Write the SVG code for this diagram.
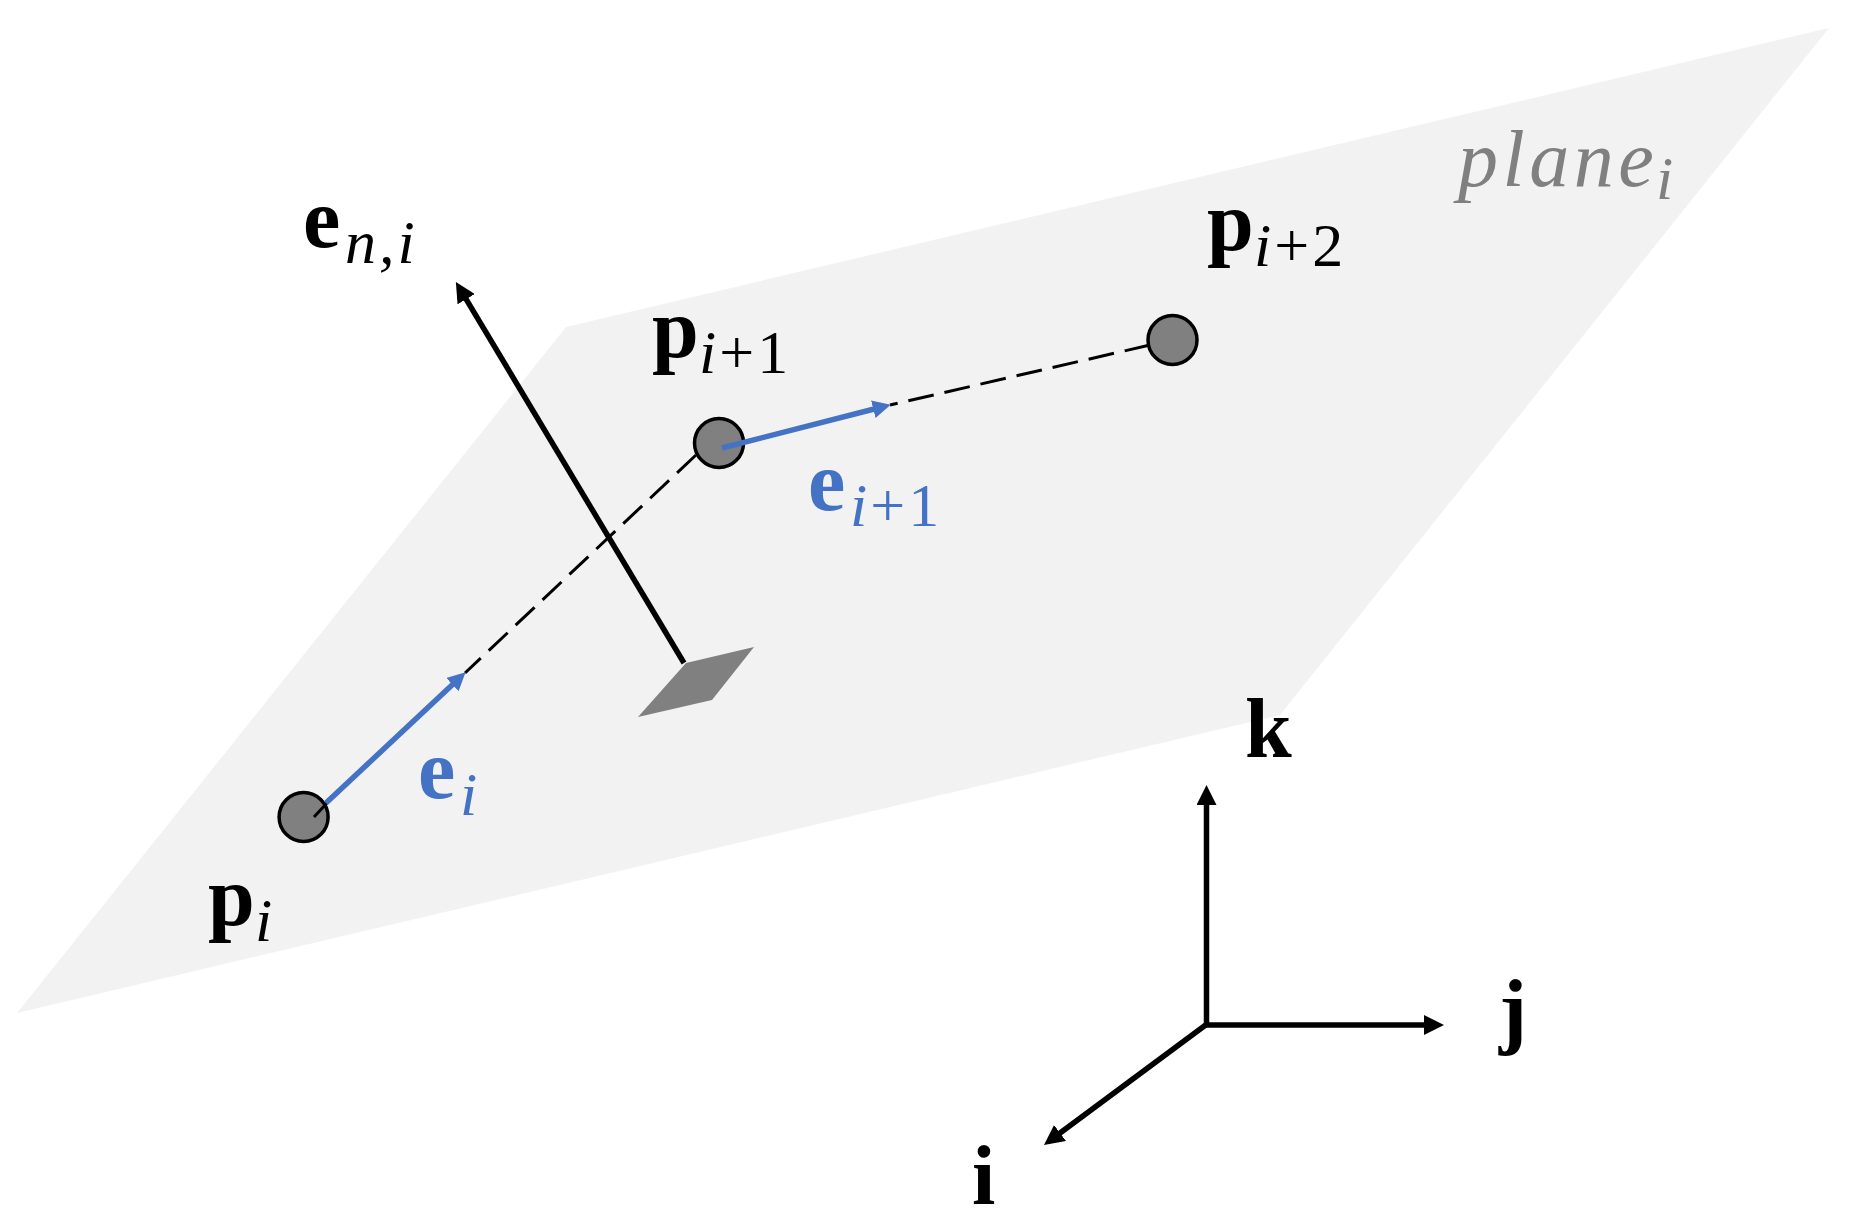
<svg xmlns="http://www.w3.org/2000/svg" width="1852" height="1231" viewBox="0 0 1852 1231">
<style>
text{font-family:"Liberation Serif",serif}
.b{font-weight:bold;font-size:84px}
.s{font-weight:normal;font-size:62px;letter-spacing:3px}
.i{font-style:italic}
.k{fill:#000}
.u{fill:#4472c4}
.pt{fill:#808080;stroke:#000;stroke-width:3.5}
.ax{stroke:#000;stroke-width:5.5;fill:none;marker-end:url(#ah)}
.bl{stroke:#4472c4;stroke-width:5.5;fill:none;marker-end:url(#bh)}
.da{stroke:#000;stroke-width:3;fill:none;stroke-dasharray:26 11}
</style>
<defs>
<marker id="ah" markerUnits="userSpaceOnUse" viewBox="0 0 20 20" markerWidth="20" markerHeight="20" refX="10" refY="10" orient="auto"><path d="M0 0L20 10L0 20Z" fill="#000"/></marker>
<marker id="bh" markerUnits="userSpaceOnUse" viewBox="0 0 16 16" markerWidth="18" markerHeight="18" refX="8" refY="8" orient="auto"><path d="M0 0L16 8L0 16Z" fill="#4472c4"/></marker>
</defs>
<rect width="1852" height="1231" fill="#fff"/>
<g id="plane"><polygon points="566,327 1829,28 1280,715 17,1013" fill="#f2f2f2"/>
<text x="1458" y="186" class="i" font-size="80" letter-spacing="4.5" fill="#808080">plane<tspan x="1656" y="199" font-size="62" font-style="italic">i</tspan></text></g>
<g id="foot"><polygon points="686,663 754,647 712,700 638,717" fill="#808080"/></g>
<g id="p1"><circle class="pt" cx="303.6" cy="817" r="24.5"/><text class="b k" x="208" y="925">p<tspan class="s i" x="255" y="941">i</tspan></text></g>
<g id="p2"><circle class="pt" cx="719" cy="443" r="24.5"/><text class="b k" x="652" y="357">p<tspan class="s i" x="699" y="373">i</tspan><tspan class="s">+1</tspan></text></g>
<g id="p3"><circle class="pt" cx="1172.5" cy="340" r="24.5"/><text class="b k" x="1207" y="250">p<tspan class="s i" x="1254" y="266">i</tspan><tspan class="s">+2</tspan></text></g>
<g id="normal-label"><text class="b k" x="303" y="247">e<tspan class="s i" x="345" y="263">n,i</tspan></text></g>
<g id="e1-label"><text class="b u" x="418" y="798">e<tspan class="s i" x="460" y="815">i</tspan></text></g>
<g id="e2-label"><text class="b u" x="808" y="510">e<tspan class="s i" x="850" y="526">i</tspan><tspan class="s">+1</tspan></text></g>
<g id="k"><text class="b k" x="1245" y="757">k</text></g>
<g id="j"><text class="b k" x="1499" y="1038">j</text></g>
<g id="i"><text class="b k" x="972" y="1204">i</text></g>
<g id="connectors">
<line class="da" x1="696" y1="455" x2="465" y2="673"/>
<line class="da" x1="1150" y1="345" x2="890" y2="405"/>
<line x1="314" y1="817" x2="327" y2="803" stroke="#000" stroke-width="3"/>
<line class="bl" x1="326" y1="803" x2="459" y2="678.5"/>
<line class="bl" x1="722" y1="448" x2="882" y2="407"/>
<line class="ax" x1="684" y1="663" x2="461" y2="290.6"/>
<line class="ax" x1="1206.5" y1="1026" x2="1206.5" y2="795"/>
<line class="ax" x1="1204.5" y1="1025" x2="1434" y2="1025"/>
<line class="ax" x1="1207" y1="1024" x2="1052" y2="1139"/>
</g>
</svg>
